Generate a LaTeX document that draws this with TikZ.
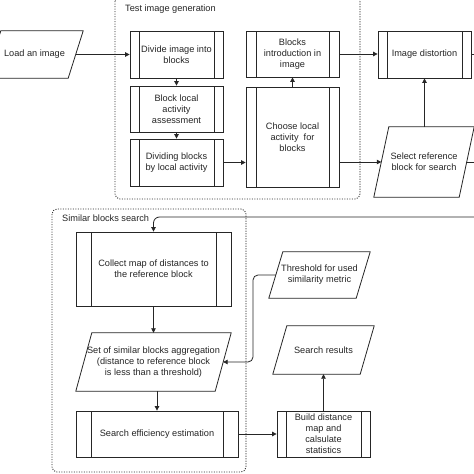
\documentclass[tikz,border=0pt]{standalone}
\usepackage{fontspec}
\setmainfont{Liberation Sans}
\usetikzlibrary{arrows.meta,calc}
\definecolor{ln}{RGB}{38,38,38}
\newcommand\mypara[2]{\draw[ln,line width=0.8pt] ([xshift=#2]#1.north west) -- (#1.north east) -- ([xshift=-#2]#1.south east) -- (#1.south west) -- cycle;}
\tikzset{
  base/.style={font=\fontsize{9.2}{10.9}\selectfont, text=ln, align=center, inner sep=0pt},
  proc/.style={base, draw=ln, line width=0.8pt, rectangle,
    path picture={\draw[ln,line width=0.8pt]
      ([xshift=#1]path picture bounding box.north west) -- ([xshift=#1]path picture bounding box.south west)
      ([xshift=-#1]path picture bounding box.north east) -- ([xshift=-#1]path picture bounding box.south east);}},
  proc/.default=9pt,
  pbox/.style={base, draw=none, rectangle},
  conn/.style={ln, line width=0.8pt, -{Triangle[length=4.5pt,width=4.5pt]}},
  plain/.style={ln, line width=0.8pt},
  group/.style={ln, line width=0.8pt, dash pattern=on 1.1pt off 1.4pt, rounded corners=5pt},
  glabel/.style={base, anchor=west}
}
\begin{document}
\begin{tikzpicture}[x=1pt,y=-1pt]
\useasboundingbox (0,0) rectangle (474,474);
\clip (0,0) rectangle (474,474);
\fill[white] (0,0) rectangle (474,474);

% groups
\draw[group] (115,-4) rectangle (360,199);
\node[glabel] (g1) at (125,9) {Test image generation};
\draw[group] (52,209) rectangle (246,472);
\node[glabel] (g2) at (62,218) {Similar blocks search};

% top part
\node[pbox, minimum width=97pt, minimum height=47pt] (load) at (34.5,54.5) {Load an image};
\mypara{load}{15pt}
\node[proc, minimum width=93pt, minimum height=47pt] (divide) at (176.5,54.5) {Divide image into\\blocks};
\node[proc, minimum width=93pt, minimum height=46pt] (bla) at (176.5,109) {Block local\\activity\\assessment};
\node[proc, minimum width=93pt, minimum height=47pt] (dbl) at (176.5,162.5) {Dividing blocks\\by local activity};
\node[proc=10pt, minimum width=93pt, minimum height=100pt] (choose) at (292.5,137) {Choose local\\activity\ \ for\\blocks};
\node[proc=10pt, minimum width=93pt, minimum height=46pt] (intro) at (292.5,54) {Blocks\\introduction in\\image};
\node[proc, minimum width=93pt, minimum height=47pt] (dist) at (424.5,54.5) {Image distortion};
\node[pbox, minimum width=100pt, minimum height=70pt] (sel) at (424,162) {Select reference\\block for search};
\mypara{sel}{15pt}
\coordinate (selL) at ([xshift=7.5pt]sel.west);
\coordinate (selR) at ([xshift=-7.5pt]sel.east);
\coordinate (offr) at (500,54);
\coordinate (offs) at (500,162);

% bottom part
\node[proc=15pt, minimum width=155pt, minimum height=74pt] (collect) at (153.5,269) {Collect map of distances to\\the reference block};
\node[pbox, minimum width=155pt, minimum height=58pt] (set) at (153.5,362) {Set of similar blocks aggregation\\(distance to reference block\\is less than a threshold)};
\mypara{set}{16pt}
\coordinate (setR) at ([xshift=-8pt]set.east);
\node[proc=15pt, minimum width=162pt, minimum height=46pt] (eff) at (157,434) {Search efficiency estimation};
\node[pbox, minimum width=101pt, minimum height=46pt] (thr) at (319.5,275) {Threshold for used\\similarity metric};
\mypara{thr}{14pt}
\coordinate (thrL) at ([xshift=7pt]thr.west);
\node[pbox, minimum width=101pt, minimum height=48pt] (res) at (323.5,350) {Search results};
\mypara{res}{14pt}
\node[proc, minimum width=93pt, minimum height=46pt] (build) at (323.5,434) {Build distance\\map and\\calsulate\\statistics};
\coordinate (loadR) at ([xshift=-7.5pt]load.east);

% connectors
\draw[conn] (loadR) -- (divide.west);
\draw[conn] (divide.south) -- (bla.north);
\draw[conn] (bla.south) -- (dbl.north);
\draw[conn] (dbl.east) -- (dbl.east -| choose.west);
\draw[conn] (choose.north) -- (intro.south);
\draw[conn] (intro.east) -- (intro.east -| dist.west);
\draw[conn] (selL -| choose.east) -- (selL);
\draw[conn] (dist.south |- sel.north) -- (dist.south);
\draw[plain] (selR) -- (offs);
\draw[conn, rounded corners=6pt] (dist.east) -- (offr) -- (500,217) -- (collect.north |- 0,217) -- (collect.north);
\draw[conn] (collect.south) -- (set.north);
\draw[conn] (eff.north |- set.south) -- (eff.north);
\draw[conn, rounded corners=5pt] (thrL) -- (253,275) -- (253,362) -- (setR);
\draw[conn] (eff.east) -- (build.west);
\draw[conn] (build.north) -- (res.south);
\end{tikzpicture}
\end{document}
